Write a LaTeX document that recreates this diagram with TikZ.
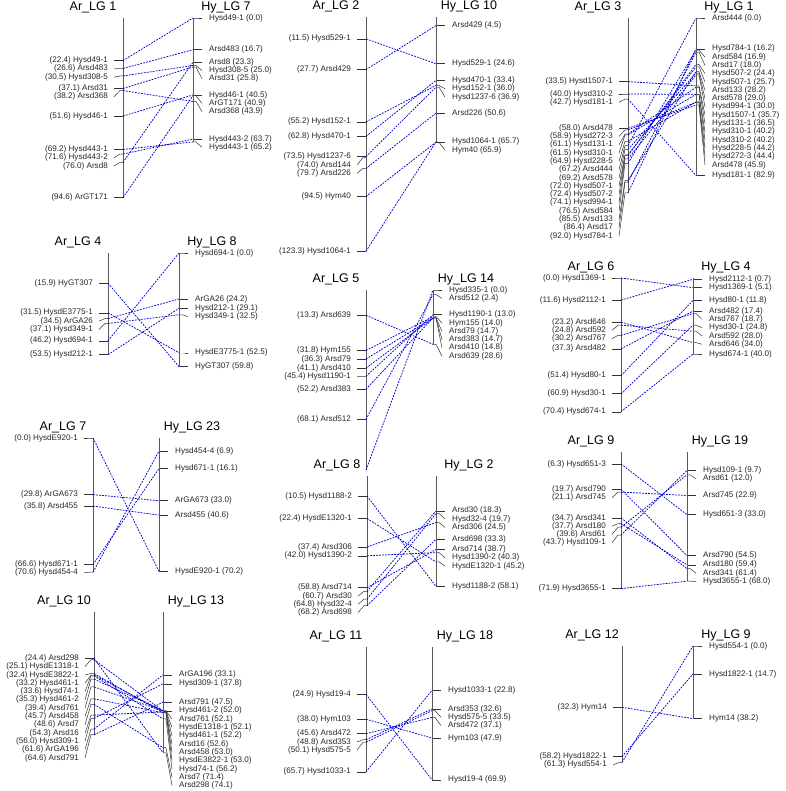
\documentclass[tikz,border=0pt]{standalone}
\usepackage{fontspec}
\setmainfont{Liberation Sans}
\begin{document}
\begin{tikzpicture}[x=1pt,y=1pt,
  bar/.style={draw=black!65,line width=0.9pt},
  lead/.style={draw=black!80,line width=0.5pt},
  lab/.style={inner sep=0pt,font=\fontsize{8.1}{8.5}\selectfont,text=black!85},
  ttl/.style={inner sep=0pt,font=\fontsize{12.5}{13}\selectfont},
  conn/.style={draw=blue!80!black,line width=0.75pt,dash pattern=on 1.8pt off 1.2pt}]
\useasboundingbox (0,0) rectangle (785,-791);
\newcommand\chrL[5]{% prefix, x, top, title, list
  \node[ttl] at (#2-30,-#3+11) {#4};
  \gdef\lastly{-1000}\gdef\maxcm{0}
  \foreach \cm/\mk in {#5}{
    \pgfmathsetmacro\ty{#3+\cm*1.9}
    \pgfmathsetmacro\ly{max(\ty,\lastly+8.3)}
    \xdef\lastly{\ly}\xdef\maxcm{\cm}
    \coordinate (#1-\mk) at (#2,-\ty);
    \draw[lead] (#2,-\ty) -- ++(-3,0) -- (#2-9,-\ly);
    \node[lab,anchor=east] at (#2-15,-\ly) {(\cm) \mk};
  }
  \draw[bar] (#2,-#3) -- (#2,{-#3-\maxcm*1.9});
}
\newcommand\chrR[5]{%
  \node[ttl] at (#2+33,-#3+11) {#4};
  \gdef\lastly{-1000}\gdef\maxcm{0}
  \foreach \cm/\mk in {#5}{
    \pgfmathsetmacro\ty{#3+\cm*1.9}
    \pgfmathsetmacro\ly{max(\ty,\lastly+8.3)}
    \xdef\lastly{\ly}\xdef\maxcm{\cm}
    \coordinate (#1-\mk) at (#2,-\ty);
    \draw[lead] (#2,-\ty) -- ++(3,0) -- (#2+9,-\ly);
    \node[lab,anchor=west] at (#2+16,-\ly) {\mk{} (\cm)};
  }
  \draw[bar] (#2,-#3) -- (#2,{-#3-\maxcm*1.9});
}
\newcommand\links[3]{\foreach \mk in {#3}{\draw[conn] (#1-\mk) -- (#2-\mk);}}
% Panel 1
\chrL{A1}{123}{18}{Ar\_LG 1}{22.4/Hysd49-1,26.6/Arsd483,30.5/Hysd308-5,37.1/Arsd31,38.2/Arsd368,51.6/Hysd46-1,69.2/Hysd443-1,71.6/Hysd443-2,76.0/Arsd8,94.6/ArGT171}
\chrR{H7}{193}{18}{Hy\_LG 7}{0.0/Hysd49-1,16.7/Arsd483,23.3/Arsd8,25.0/Hysd308-5,25.8/Arsd31,40.5/Hysd46-1,40.9/ArGT171,43.9/Arsd368,63.7/Hysd443-2,65.2/Hysd443-1}
\links{A1}{H7}{Hysd49-1,Arsd483,Hysd308-5,Arsd31,Arsd368,Hysd46-1,Hysd443-1,Hysd443-2,Arsd8,ArGT171}
% Panel 2
\chrL{A2}{366}{17}{Ar\_LG 2}{11.5/Hysd529-1,27.7/Arsd429,55.2/Hysd152-1,62.8/Hysd470-1,73.5/Hysd1237-6,74.0/Arsd144,79.7/Arsd226,94.5/Hym40,123.3/Hysd1064-1}
\chrR{H10}{436}{17}{Hy\_LG 10}{4.5/Arsd429,24.6/Hysd529-1,33.4/Hysd470-1,36.0/Hysd152-1,36.9/Hysd1237-6,50.6/Arsd226,65.7/Hysd1064-1,65.9/Hym40}
\links{A2}{H10}{Hysd529-1,Arsd429,Hysd152-1,Hysd470-1,Hysd1237-6,Arsd226,Hym40,Hysd1064-1}
% Panel 3
\chrL{A3}{628}{18}{Ar\_LG 3}{33.5/Hysd1507-1,40.0/Hysd310-2,42.7/Hysd181-1,58.0/Arsd478,58.9/Hysd272-3,61.1/Hysd131-1,61.5/Hysd310-1,64.9/Hysd228-5,67.2/Arsd444,69.2/Arsd578,72.0/Hysd507-1,72.4/Hysd507-2,74.1/Hysd994-1,76.5/Arsd584,85.5/Arsd133,86.4/Arsd17,92.0/Hysd784-1}
\chrR{H1}{696}{18}{Hy\_LG 1}{0.0/Arsd444,16.2/Hysd784-1,16.9/Arsd584,18.0/Arsd17,24.4/Hysd507-2,25.7/Hysd507-1,28.2/Arsd133,29.0/Arsd578,30.0/Hysd994-1,35.7/Hysd1507-1,36.5/Hysd131-1,40.2/Hysd310-1,40.2/Hysd310-2,44.2/Hysd228-5,44.4/Hysd272-3,45.9/Arsd478,82.9/Hysd181-1}
\links{A3}{H1}{Hysd1507-1,Hysd310-2,Hysd181-1,Arsd478,Hysd272-3,Hysd131-1,Hysd310-1,Hysd228-5,Arsd444,Arsd578,Hysd507-1,Hysd507-2,Hysd994-1,Arsd584,Arsd133,Arsd17,Hysd784-1}
% Panel 4
\chrL{A4}{108}{253}{Ar\_LG 4}{15.9/HyGT307,31.5/HysdE3775-1,34.5/ArGA26,37.1/Hysd349-1,46.2/Hysd694-1,53.5/Hysd212-1}
\chrR{H8}{179}{253}{Hy\_LG 8}{0.0/Hysd694-1,24.2/ArGA26,29.1/Hysd212-1,32.5/Hysd349-1,52.5/HysdE3775-1,59.8/HyGT307}
\links{A4}{H8}{HyGT307,HysdE3775-1,ArGA26,Hysd349-1,Hysd694-1,Hysd212-1}
% Panel 5
\chrL{A5}{366}{290}{Ar\_LG 5}{13.3/Arsd639,31.8/Hym155,36.3/Arsd79,41.1/Arsd410,45.4/Hysd1190-1,52.2/Arsd383,68.1/Arsd512}
\draw[bar] (366,-290) -- (366,-470);
\coordinate (A5-Hysd335-1) at (366,-470);
\chrR{H14}{433}{290}{Hy\_LG 14}{0.0/Hysd335-1,2.4/Arsd512,13.0/Hysd1190-1,14.0/Hym155,14.7/Arsd79,14.7/Arsd383,14.8/Arsd410,28.6/Arsd639}
\links{A5}{H14}{Hysd335-1,Arsd512,Hysd1190-1,Hym155,Arsd79,Arsd383,Arsd410,Arsd639}
% Panel 6
\chrL{A6}{621}{278}{Ar\_LG 6}{0.0/Hysd1369-1,11.6/Hysd2112-1,23.2/Arsd646,24.8/Arsd592,30.2/Arsd767,37.3/Arsd482,51.4/Hysd80-1,60.9/Hysd30-1,70.4/Hysd674-1}
\chrR{H4}{693}{278}{Hy\_LG 4}{0.7/Hysd2112-1,5.1/Hysd1369-1,11.8/Hysd80-1,17.4/Arsd482,18.7/Arsd767,24.8/Hysd30-1,28.0/Arsd592,34.0/Arsd646,40.0/Hysd674-1}
\links{A6}{H4}{Hysd1369-1,Hysd2112-1,Arsd646,Arsd592,Arsd767,Arsd482,Hysd80-1,Hysd30-1,Hysd674-1}
% Panel 7
\chrL{A7}{93}{438}{Ar\_LG 7}{0.0/HysdE920-1,29.8/ArGA673,35.8/Arsd455,66.6/Hysd671-1,70.6/Hysd454-4}
\chrR{H23}{159}{438}{Hy\_LG 23}{6.9/Hysd454-4,16.1/Hysd671-1,33.0/ArGA673,40.6/Arsd455,70.2/HysdE920-1}
\links{A7}{H23}{HysdE920-1,ArGA673,Arsd455,Hysd671-1,Hysd454-4}
% Panel 8
\chrL{A8}{367}{476}{Ar\_LG 8}{10.5/Hysd1188-2,22.4/HysdE1320-1,37.4/Arsd306,42.0/Hysd1390-2,58.8/Arsd714,60.7/Arsd30,64.8/Hysd32-4,68.2/Arsd698}
\chrR{H2}{436}{476}{Hy\_LG 2}{18.3/Arsd30,19.7/Hysd32-4,24.5/Arsd306,33.3/Arsd698,38.7/Arsd714,40.3/Hysd1390-2,45.2/HysdE1320-1,58.1/Hysd1188-2}
\links{A8}{H2}{Hysd1188-2,HysdE1320-1,Arsd306,Hysd1390-2,Arsd714,Arsd30,Hysd32-4,Arsd698}
% Panel 9
\chrL{A9}{621}{452}{Ar\_LG 9}{6.3/Hysd651-3,19.7/Arsd790,21.1/Arsd745,34.7/Arsd341,37.7/Arsd180,39.6/Arsd61,43.7/Hysd109-1,71.9/Hysd3655-1}
\chrR{H19}{687}{452}{Hy\_LG 19}{9.7/Hysd109-1,12.0/Arsd61,22.9/Arsd745,33.0/Hysd651-3,54.5/Arsd790,59.4/Arsd180,61.4/Arsd341,68.0/Hysd3655-1}
\links{A9}{H19}{Hysd651-3,Arsd790,Arsd745,Arsd341,Arsd180,Arsd61,Hysd109-1,Hysd3655-1}
% Panel 10
\chrL{A10}{94}{612}{Ar\_LG 10}{24.4/Arsd298,25.1/HysdE1318-1,32.4/HysdE3822-1,33.2/Hysd461-1,33.6/Hysd74-1,35.3/Hysd461-2,39.4/Arsd761,45.7/Arsd458,48.6/Arsd7,54.3/Arsd16,56.0/Hysd309-1,61.6/ArGA196,64.6/Arsd791}
\chrR{H13}{163}{612}{Hy\_LG 13}{33.1/ArGA196,37.8/Hysd309-1,47.5/Arsd791,52.0/Hysd461-2,52.1/Arsd761,52.1/HysdE1318-1,52.2/Hysd461-1,52.6/Arsd16,53.0/Arsd458,53.0/HysdE3822-1,56.2/Hysd74-1,71.4/Arsd7,74.1/Arsd298}
\links{A10}{H13}{Arsd298,HysdE1318-1,HysdE3822-1,Hysd461-1,Hysd74-1,Hysd461-2,Arsd761,Arsd458,Arsd7,Arsd16,Hysd309-1,ArGA196,Arsd791}
% Panel 11
\chrL{A11}{366}{647}{Ar\_LG 11}{24.9/Hysd19-4,38.0/Hym103,45.6/Arsd472,48.8/Arsd353,50.1/Hysd575-5,65.7/Hysd1033-1}
\chrR{H18}{432}{647}{Hy\_LG 18}{22.8/Hysd1033-1,32.6/Arsd353,33.5/Hysd575-5,37.1/Arsd472,47.9/Hym103,69.9/Hysd19-4}
\links{A11}{H18}{Hysd19-4,Hym103,Arsd472,Arsd353,Hysd575-5,Hysd1033-1}
% Panel 12
\chrL{A12}{622}{646}{Ar\_LG 12}{32.3/Hym14,58.2/Hysd1822-1,61.3/Hysd554-1}
\chrR{H9}{693}{646}{Hy\_LG 9}{0.0/Hysd554-1,14.7/Hysd1822-1,38.2/Hym14}
\links{A12}{H9}{Hym14,Hysd1822-1,Hysd554-1}
\end{tikzpicture}
\end{document}
